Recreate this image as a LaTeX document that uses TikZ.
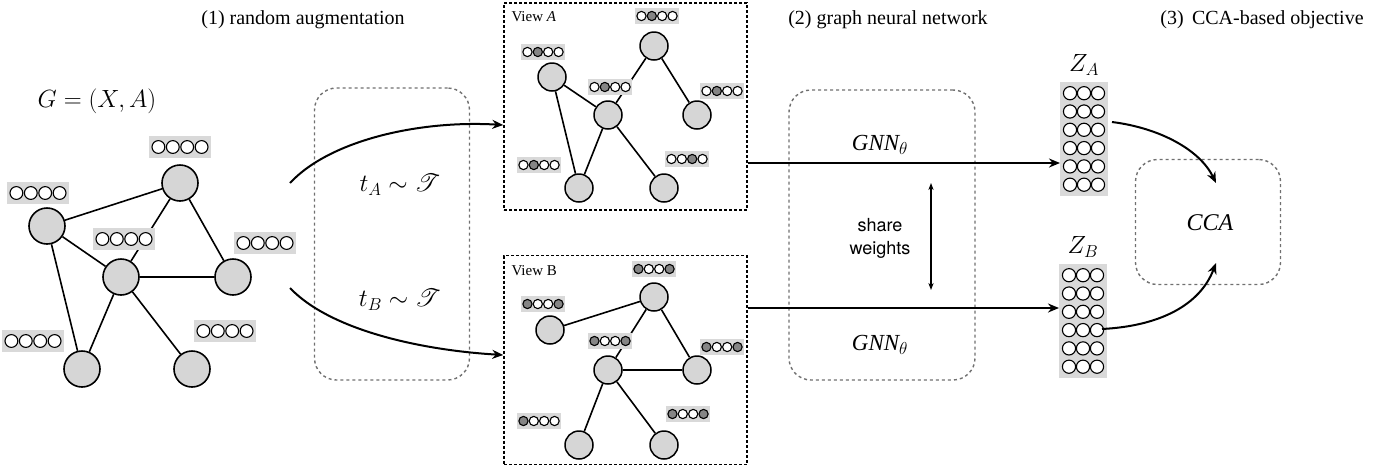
\documentclass[tikz,border=0pt]{standalone}
\usepackage{mathrsfs}
\usepackage{fontspec}
\setmainfont{Liberation Serif}
\setsansfont{TeX Gyre Heros}
\usetikzlibrary{arrows.meta,calc}
\definecolor{vfill}{HTML}{D6D6D6}
\definecolor{vbg}{HTML}{D9D9D9}
\definecolor{dk}{HTML}{858585}
\definecolor{dash}{HTML}{707070}
% feature vector: (pos), scale, four circle fills
\newcommand\fvec[6]{%
  \begin{scope}[shift={(#1)},scale=#2]
    \fill[vbg] (-31,-11) rectangle (31,11);
    \draw[line width=1.1pt,fill=#3] (-21.6,0) circle (6.4);
    \draw[line width=1.1pt,fill=#4] (-7.2,0) circle (6.4);
    \draw[line width=1.1pt,fill=#5] (7.2,0) circle (6.4);
    \draw[line width=1.1pt,fill=#6] (21.6,0) circle (6.4);
  \end{scope}}
\newcommand\zmat[2]{%
  \fill[vbg] (#1) ++(-24,-57) rectangle ++(48,114);
  \foreach \r in {0,...,5}{\foreach \c in {-1,0,1}{
    \draw[line width=1.1pt,fill=white] (#1) ++(14*\c,-45.8+18.3*\r) circle (6.6);}}
  \node[ztext] at ($(#1)+(0,-74)$) {$Z_{#2}$};}
\begin{document}
\begin{tikzpicture}[x=1pt,y=-1pt,
  big/.style={circle,draw,fill=vfill,line width=1.6pt,minimum size=36pt,inner sep=0pt},
  sml/.style={circle,draw,fill=vfill,line width=1.5pt,minimum size=28pt,inner sep=0pt},
  e/.style={line width=1.6pt},
  view/.style={draw,densely dashed,line width=1.5pt},
  grp/.style={draw=dash,dashed,line width=1.4pt,rounded corners=22pt},
  arr/.style={-{Stealth[length=11pt,width=9pt]},line width=2pt},
  title/.style={font=\fontsize{20}{24}\selectfont},
  ztext/.style={font=\fontsize{27}{30}\selectfont},
  ]
\useasboundingbox (0,0) rectangle (1374,467);
% titles
\node[title] (t1) at (303,20) {(1) random augmentation};
\node[title] (t2) at (888,20) {(2) graph neural network};
\node[title] (t3) at (1262,20) {(3)\, CCA-based objective};
% input graph
\node[font=\fontsize{26}{30}\selectfont] (G) at (97,101) {$G=(X,A)$};
\node[big] (n1) at (180,183) {};
\node[big] (n2) at (47,226) {};
\node[big] (n3) at (121,277) {};
\node[big] (n4) at (233,277) {};
\node[big] (n5) at (82,369) {};
\node[big] (n6) at (192,369) {};
\draw[e] (n2)--(n1) (n2)--(n3) (n2)--(n5) (n3)--(n1) (n1)--(n4) (n3)--(n4) (n3)--(n5) (n3)--(n6);
\fvec{180,147}{1}{white}{white}{white}{white}
\fvec{38,193}{1}{white}{white}{white}{white}
\fvec{124,239}{1}{white}{white}{white}{white}
\fvec{265,243}{1}{white}{white}{white}{white}
\fvec{33,341}{1}{white}{white}{white}{white}
\fvec{225,331}{1}{white}{white}{white}{white}
% augmentation
\node[grp,minimum width=155pt,minimum height=292pt] (aug) at (392,234) {};
\node[font=\fontsize{27}{30}\selectfont] (ta) at (400,185) {$t_A\sim\mathscr{T}$};
\node[font=\fontsize{27}{30}\selectfont] (tb) at (400,300) {$t_B\sim\mathscr{T}$};
% view A
\node[view,minimum width=243pt,minimum height=207pt] (VA) at (625.5,106.5) {};
\node[anchor=north west,font=\fontsize{15}{17}\selectfont] (la) at (508,8) {View \textit{A}};
\node[sml] (a1) at (654,46) {};
\node[sml] (a2) at (552,77) {};
\node[sml] (a3) at (608,115) {};
\node[sml] (a4) at (697,115) {};
\node[sml] (a5) at (579,188) {};
\node[sml] (a6) at (664,188) {};
\draw[e] (a2)--(a3) (a2)--(a5) (a3)--(a1) (a1)--(a4) (a3)--(a5) (a3)--(a6);
\fvec{657,16}{0.72}{white}{dk}{white}{white}
\fvec{543,52}{0.72}{white}{dk}{white}{white}
\fvec{610,87}{0.72}{white}{dk}{white}{white}
\fvec{722,91}{0.72}{white}{dk}{white}{white}
\fvec{539,165}{0.72}{white}{dk}{white}{white}
\fvec{687,159}{0.72}{white}{white}{dk}{white}
% view B
\node[view,minimum width=243pt,minimum height=209pt] (VB) at (625.5,360) {};
\node[anchor=north west,font=\fontsize{15}{17}\selectfont] (lb) at (508,262) {View B};
\node[sml] (b1) at (654,297) {};
\node[sml] (b2) at (550,330) {};
\node[sml] (b3) at (608,370) {};
\node[sml] (b4) at (697,370) {};
\node[sml] (b5) at (579,445) {};
\node[sml] (b6) at (664,445) {};
\draw[e] (b2)--(b1) (b1)--(b3) (b1)--(b4) (b3)--(b4) (b3)--(b5) (b3)--(b6);
\fvec{654,269}{0.72}{dk}{white}{white}{dk}
\fvec{543,304}{0.72}{dk}{white}{white}{dk}
\fvec{610,341}{0.72}{dk}{white}{white}{dk}
\fvec{722,347}{0.72}{dk}{white}{white}{dk}
\fvec{539,421}{0.72}{dk}{white}{white}{white}
\fvec{688,414}{0.72}{dk}{white}{white}{dk}
% augmentation arrows
\coordinate (sa) at (290,183);
\coordinate (sb) at (290,288);
\draw[arr] (sa) .. controls (330,140) and (420,120) .. (VA.west |- 0,125);
\draw[arr] (sb) .. controls (330,330) and (420,350) .. (VB.west |- 0,355);
% GNN
\node[grp,minimum width=186pt,minimum height=290pt] (gnn) at (882,235) {};
\node[font=\fontsize{23}{26}\selectfont] (g1) at (880,145) {$\mathit{GNN}_\theta$};
\node[font=\fontsize{23}{26}\selectfont] (g2) at (880,345) {$\mathit{GNN}_\theta$};
\node[font=\sffamily\fontsize{18}{23}\selectfont,align=center] (sw) at (880,238) {share\\weights};
\coordinate (s1) at (931,183);
\coordinate (s2) at (931,290);
\draw[{Stealth[length=7pt]}-{Stealth[length=7pt]},line width=1.2pt] (s1)--(s2);
% embeddings
\zmat{1084,139}{A}
\zmat{1083,321}{B}
\coordinate (za) at (1060,163);
\coordinate (zb) at (1059,308);
\draw[arr] (VA.east |- za) -- (za);
\draw[arr] (VB.east |- zb) -- (zb);
% CCA
\node[grp,minimum width=145pt,minimum height=125pt] (cca) at (1208,222) {};
\node[font=\fontsize{24}{28}\selectfont] (ct) at (1210,223) {$\mathit{CCA}$};
\coordinate (ea) at (1112,122);
\coordinate (eb) at (1102,329);
\draw[arr] (ea) .. controls (1160,128) and (1200,150) .. (1216,183);
\draw[arr] (eb) .. controls (1160,326) and (1200,305) .. (1216,263);
\end{tikzpicture}
\end{document}
